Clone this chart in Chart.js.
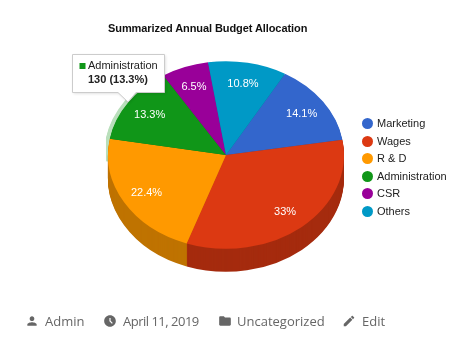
<!DOCTYPE html>
<html>
<head>
<meta charset="utf-8">
<script src="https://cdn.jsdelivr.net/npm/chart.js@4"></script>
<style>
  html, body { margin: 0; padding: 0; background: #fff; }
  #wrap { position: relative; width: 474px; height: 351px; overflow: hidden; }
  #my_chart { position: absolute; left: 0; top: 0; }
  .title { position: absolute; left: 108px; top: 22px; font: bold 11px "Liberation Sans", Arial, sans-serif; letter-spacing: -0.08px; color: #111; white-space: nowrap; }
  .legend_row { position: absolute; left: 362px; height: 12px; font: 11px/12px "Liberation Sans", Arial, sans-serif; color: #222; white-space: nowrap; }
  .legend_dot { position: absolute; left: 0; top: 0.5px; width: 11px; height: 11px; border-radius: 50%; }
  .legend_row span { position: absolute; left: 15px; top: 0; }
  .meta_text { position: absolute; top: 312px; font: 13px/18px "Open Sans", sans-serif; color: #666; white-space: nowrap; }
  .meta_icon { position: absolute; top: 314px; width: 14px; height: 14px; fill: #666; }
</style>
</head>
<body>
<div id="wrap">
  <canvas id="my_chart" width="474" height="351"></canvas>
  <div class="title">Summarized Annual Budget Allocation</div>
  <div id="legend"></div>
  <svg class="meta_icon" style="left:24.7px" viewBox="0 0 24 24"><path d="M12 12c2.21 0 4-1.79 4-4s-1.79-4-4-4-4 1.79-4 4 1.79 4 4 4zm0 2c-2.67 0-8 1.34-8 4v2h16v-2c0-2.66-5.33-4-8-4z"/></svg>
  <div class="meta_text" style="left:45px">Admin</div>
  <svg class="meta_icon" style="left:103px" viewBox="0 0 24 24"><path d="M11.99 2C6.47 2 2 6.48 2 12s4.47 10 9.99 10C17.52 22 22 17.52 22 12S17.52 2 11.99 2zm3.3 14.71L11 12.41V7h2v4.59l3.71 3.71-1.42 1.41z"/></svg>
  <div class="meta_text" style="left:123px;letter-spacing:-0.5px">April 11, 2019</div>
  <svg class="meta_icon" style="left:218px" viewBox="0 0 24 24"><path d="M10 4H4c-1.1 0-1.99.9-1.99 2L2 18c0 1.1.9 2 2 2h16c1.1 0 2-.9 2-2V8c0-1.1-.9-2-2-2h-8l-2-2z"/></svg>
  <div class="meta_text" style="left:237px">Uncategorized</div>
  <svg class="meta_icon" style="left:342px" viewBox="0 0 24 24"><path d="M3 17.25V21h3.75L17.81 9.94l-3.75-3.75L3 17.25zM20.71 7.04c.39-.39.39-1.02 0-1.41l-2.34-2.34c-.39-.39-1.02-.39-1.41 0l-1.83 1.83 3.75 3.75 1.83-1.83z"/></svg>
  <div class="meta_text" style="left:362px">Edit</div>
</div>
<script>
const categories = ['Marketing', 'Wages', 'R & D', 'Administration', 'CSR', 'Others'];
const budget = [137, 322, 218, 130, 63, 105];
const sliceColors = ['#3366cc', '#dc3912', '#ff9900', '#109618', '#990099', '#0099c6'];
const sideColors = ['#264c99', '#a52b0e', '#bf7300', '#0c7012', '#730073', '#007395'];
const hoveredSlice = 3;

const squash = 0.795;
const depth = 23;
const total = budget.reduce((a, b) => a + b, 0);

const percentText = (i) => parseFloat((budget[i] / total * 100).toFixed(1)) + '%';

// legend
const legendBox = document.getElementById('legend');
const legendY = [117, 135, 152, 170, 187, 205];
categories.forEach((name, i) => {
  const row = document.createElement('div');
  row.className = 'legend_row';
  row.style.top = legendY[i] + 'px';
  row.innerHTML = `<div class="legend_dot" style="background:${sliceColors[i]}"></div><span>${name}</span>`;
  legendBox.appendChild(row);
});

// draw an arc element with another colour / radius, then put it back
const drawArcAs = (arc, ctx, color, extra) => {
  const keepOptions = arc.options;
  const keepRadius = arc.outerRadius;
  arc.options = Object.assign({}, keepOptions, {backgroundColor: color, borderWidth: 0});
  arc.outerRadius = keepRadius + extra;
  arc.draw(ctx);
  arc.options = keepOptions;
  arc.outerRadius = keepRadius;
};

const flatten = (ctx, arc, shift) => {
  ctx.translate(0, arc.y + shift);
  ctx.scale(1, squash);
  ctx.translate(0, -arc.y);
};

const pie3d = {
  id: 'pie3d',
  beforeDatasetDraw(chart, args) {
    const ctx = chart.ctx;
    const arcs = args.meta.data;
    // ring round the hovered slice, then the side wall
    for (let d = depth; d >= 0; d--) {
      ctx.save();
      flatten(ctx, arcs[0], d);
      drawArcAs(arcs[hoveredSlice], ctx, '#b9dfbb', 4);
      ctx.restore();
    }
    for (let d = depth; d >= 1; d--) {
      ctx.save();
      flatten(ctx, arcs[0], d);
      arcs.forEach((arc, i) => drawArcAs(arc, ctx, sideColors[i], 0));
      ctx.restore();
    }
    ctx.save();
    flatten(ctx, arcs[0], 0);
  },
  afterDatasetDraw(chart) {
    chart.ctx.restore();
  },
  afterDraw(chart) {
    const ctx = chart.ctx;
    const arcs = chart.getDatasetMeta(0).data;

    ctx.save();
    ctx.font = '11px "Liberation Sans", Arial, sans-serif';
    ctx.fillStyle = '#fff';
    ctx.textAlign = 'center';
    ctx.textBaseline = 'middle';
    arcs.forEach((arc, i) => {
      const mid = (arc.startAngle + arc.endAngle) / 2;
      const r = arc.outerRadius * 0.78;
      ctx.fillText(percentText(i), arc.x + Math.cos(mid) * r, arc.y + 1 + Math.sin(mid) * r * squash);
    });
    ctx.restore();

    // tooltip
    ctx.save();
    ctx.beginPath();
    ctx.moveTo(72.5, 54.5);
    ctx.lineTo(164.5, 54.5);
    ctx.lineTo(164.5, 92.5);
    ctx.lineTo(136, 92.5);
    ctx.lineTo(128, 102);
    ctx.lineTo(118, 92.5);
    ctx.lineTo(72.5, 92.5);
    ctx.closePath();
    ctx.shadowColor = 'rgba(0,0,0,0.15)';
    ctx.shadowBlur = 3;
    ctx.shadowOffsetX = 1;
    ctx.shadowOffsetY = 1;
    ctx.fillStyle = '#fff';
    ctx.fill();
    ctx.shadowColor = 'transparent';
    ctx.strokeStyle = '#cccccc';
    ctx.lineWidth = 1;
    ctx.stroke();
    ctx.fillStyle = sliceColors[hoveredSlice];
    ctx.fillRect(79.5, 63, 6, 6);
    ctx.fillStyle = '#222';
    ctx.textBaseline = 'middle';
    ctx.font = '11px "Liberation Sans", Arial, sans-serif';
    ctx.fillText(categories[hoveredSlice], 88, 66);
    ctx.font = 'bold 11px "Liberation Sans", Arial, sans-serif';
    ctx.fillText(budget[hoveredSlice] + ' (' + percentText(hoveredSlice) + ')', 88, 80);
    ctx.restore();
  }
};

const ctx = document.getElementById('my_chart');
new Chart(ctx, {
  type: 'pie',
  data: {
    labels: categories,
    datasets: [{
      data: budget,
      backgroundColor: sliceColors,
      borderWidth: 0,
      clip: false
    }]
  },
  options: {
    responsive: false,
    animation: false,
    rotation: 30,
    layout: {
      padding: {left: 108, right: 130, top: 37, bottom: 78}
    },
    plugins: {
      legend: {display: false},
      tooltip: {enabled: false}
    }
  },
  plugins: [pie3d]
});
</script>
</body>
</html>
